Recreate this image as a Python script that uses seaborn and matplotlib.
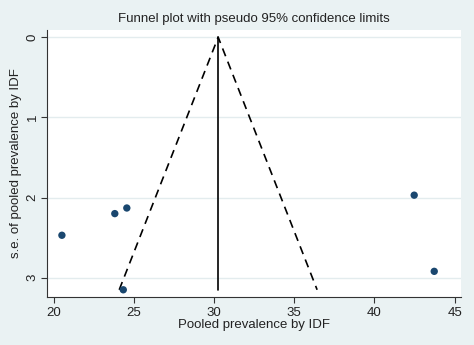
import matplotlib
matplotlib.use("Agg")
import matplotlib.pyplot as plt
import seaborn as sns
import pandas as pd
import numpy as np

prevalence = [20.5, 23.8, 24.55, 24.33, 42.48, 43.73]
se = [2.47, 2.20, 2.13, 3.15, 1.97, 2.92]
pooled = 30.25
xticks = [20, 25, 30, 35, 40, 45]
yticks = [0, 1, 2, 3]

sns.set_theme(style="white")
plt.rcParams['font.family'] = ['Liberation Sans', 'DejaVu Sans']

bg = "#eaf2f3"
fig = plt.figure(figsize=(4.74, 3.45), dpi=100, facecolor=bg)
ax = fig.add_axes([47/474, 1-297/345, (461-47)/474, (297-30)/345])
ax.set_facecolor("white")

df = pd.DataFrame({"prev": prevalence, "se": se})

semax = max(se)
for t in yticks:
    ax.axhline(t, color="#e3ecee", lw=1, zorder=0)

funnel = pd.DataFrame({"x": [pooled - 1.96 * semax, pooled, pooled + 1.96 * semax],
                       "y": [semax, 0, semax]})
ax.plot(funnel["x"], funnel["y"], color="black", lw=1.2, dashes=(5, 3.5))
ax.plot([pooled, pooled], [0, semax], color="black", lw=1.2)

sns.scatterplot(data=df, x="prev", y="se", ax=ax, color="#1a476f", s=28,
                edgecolor="none", zorder=3)

ax.set_xlim(19.57, 45.4)
ax.set_ylim(3.24, -0.09)
ax.set_xticks(xticks)
ax.set_yticks(yticks)
ax.set_yticklabels([str(t) for t in yticks], rotation=90, va="center")
for s in ["top", "right"]:
    ax.spines[s].set_visible(False)
for s in ["left", "bottom"]:
    ax.spines[s].set_color("#333333")
    ax.spines[s].set_linewidth(0.8)
ax.tick_params(axis="both", which="both", direction="out", length=4, width=0.8,
               color="#333333", labelsize=9.5, colors="#222222", left=True, bottom=True)
ax.tick_params(axis="y", pad=2)
ax.set_xlabel("Pooled prevalence by IDF", fontsize=9.5, color="#222222", labelpad=0)
ax.set_ylabel("s.e. of pooled prevalence by IDF", fontsize=9.5, color="#222222", labelpad=3)
ax.set_title("Funnel plot with pseudo 95% confidence limits", fontsize=9.5, color="#222222", pad=6)

fig.savefig("out.png", dpi=100, facecolor=bg)
